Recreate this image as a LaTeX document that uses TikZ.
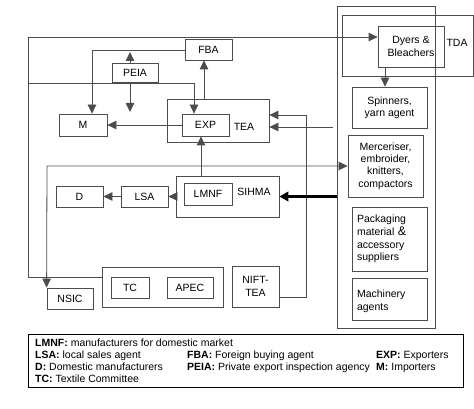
\documentclass[tikz,border=0pt]{standalone}
\usepackage{fontspec}
\setmainfont{Liberation Sans}
\usetikzlibrary{arrows.meta}
\begin{document}
\begin{tikzpicture}[x=1pt,y=-1pt,
  bx/.style={draw=black!70, line width=0.8pt, inner sep=0pt, align=center,
    font=\fontsize{10.5}{12.3}\selectfont},
  box/.style 2 args={minimum width=#1, minimum height=#2},
  lbl/.style={inner sep=0pt, font=\fontsize{10.5}{12.3}\selectfont},
  ln/.style={draw=black!70, line width=0.8pt},
  arr/.style={ln, -{Triangle[length=9pt,width=8.5pt]}},
  darr/.style={ln, {Triangle[length=9pt,width=8.5pt]}-{Triangle[length=9pt,width=8.5pt]}},
  thk/.style={draw=black, line width=2.2pt, -{Triangle[length=9pt,width=9.5pt]}},
  leg/.style={inner sep=0pt, anchor=base west, font=\fontsize{10.5}{12}\selectfont}
]
\useasboundingbox (0,0) rectangle (474,409);

% right column
\node[bx, box={98}{322}] (col) at (386,167) {};
\node[bx, box={131}{61}] (tda) at (407.5,45.5) {};
\node[lbl] (tdal) at (457,43) {TDA};
\node[bx, box={66}{41}] (dyers) at (411,46.5) {Dyers \&\\Bleachers};
\node[bx, box={75}{41}] (spin) at (389.5,107.5) {Spinners,\\yarn agent};
\node[bx, box={75}{62}] (merc) at (385.5,166) {Merceriser,\\embroider,\\knitters,\\compactors};
\node[bx, box={75}{64}, align=left, text width=65pt, font=\fontsize{10.5}{12.8}\selectfont] (pack) at (389.5,239) {Packaging\\material {\fontsize{12.5}{12.8}\selectfont\&}\\accessory\\suppliers};
\node[bx, box={75}{42}, align=left, text width=65pt, text depth=10pt] (mach) at (389.5,299) {Machinery\\agents};

% top left
\node[bx, box={47}{21}] (fba) at (208.5,49.5) {FBA};
\node[bx, box={46}{19}] (peia) at (135,72.5) {PEIA};
\node[bx, box={48}{22}] (m) at (83,125) {M};
\node[bx, box={102}{43}] (teag) at (218,120.5) {};
\node[bx, box={47}{22}] (exp) at (205.5,125) {EXP};
\node[lbl] (teal) at (244,127) {TEA};

% middle
\node[bx, box={103}{41}] (sihg) at (227.5,196.5) {};
\node[bx, box={48}{22}] (lmnf) at (208,194) {LMNF};
\node[lbl] (sihl) at (254,192) {SIHMA};
\node[bx, box={47}{21}] (lsa) at (144.5,196.5) {LSA};
\node[bx, box={47}{21}] (d) at (79.5,196.5) {D};

% bottom
\node[bx, box={46}{21}] (nsic) at (70,298.5) {NSIC};
\node[bx, box={121}{40}] (tcg) at (162.5,287) {};
\node[bx, box={38}{21}] (tc) at (130,287.5) {TC};
\node[bx, box={46}{21}] (apec) at (190,287.5) {APEC};
\node[bx, box={47}{41}] (nift) at (255.5,286.5) {NIFT-\\TEA};

% coordinates
\coordinate (c1) at (28,277);
\coordinate (c2) at (28,37);
\coordinate (c3) at (28,83);
\coordinate (c4) at (194,83);
\coordinate (c5) at (92,50);
\coordinate (c6) at (130,52);
\coordinate (c7) at (130,112);
\coordinate (c8) at (306,297);
\coordinate (c9) at (306,115);
\coordinate (c10) at (333,127);
\coordinate (c11) at (47,166);
\coordinate (c12) at (204,0);
\coordinate (c13) at (201,0);
\coordinate (c14) at (385,0);

% connectors
\draw[arr] (tcg.west |- c1) -- (c1) -- (c2) -- (dyers.west |- c2);
\draw[arr] (c3) -- (c4) -- (exp.north -| c4);
\draw[arr] (fba.west |- c5) -- (c5) -- (m.north -| c5);
\draw[arr] (peia.north -| c6) -- (c6);
\draw[arr] (peia.south -| c7) -- (c7);
\draw[arr] (exp.west) -- (m.east);
\draw[arr] (teag.north -| c12) -- (fba.south -| c12);
\draw[arr] (sihg.north -| c13) -- (exp.south -| c13);
\draw[arr] (nift.east |- c8) -- (c8) -- (c9) -- (teag.east |- c9);
\draw[arr] (c10) -- (teag.east |- c10);
\draw[thk] (col.west |- sihg.east) -- (sihg.east);
\draw[arr] (sihg.west) -- (lsa.east);
\draw[arr] (lsa.west) -- (d.east);
\draw[darr] (nsic.north west) -- (c11) -- (merc.west |- c11);
\draw[arr] (dyers.south -| c14) -- (spin.north -| c14);

% legend
\node[draw=black, line width=1pt, minimum width=435, minimum height=53, inner sep=0pt] (legbox) at (245.5,360.5) {};
\node[leg] (l1) at (35,346.5) {\textbf{LMNF:} manufacturers for domestic market};
\node[leg] (l2) at (35,358.5) {\textbf{LSA:} local sales agent};
\node[leg] (l3) at (187,358.5) {\textbf{FBA:} Foreign buying agent};
\node[leg] (l4) at (376,358.5) {\textbf{EXP:} Exporters};
\node[leg] (l5) at (35,370.5) {\textbf{D:} Domestic manufacturers};
\node[leg] (l6) at (187,370.5) {\textbf{PEIA:} Private export inspection agency};
\node[leg] (l7) at (376,370.5) {\textbf{M:} Importers};
\node[leg] (l8) at (35,382) {\textbf{TC:} Textile Committee};
\end{tikzpicture}
\end{document}
